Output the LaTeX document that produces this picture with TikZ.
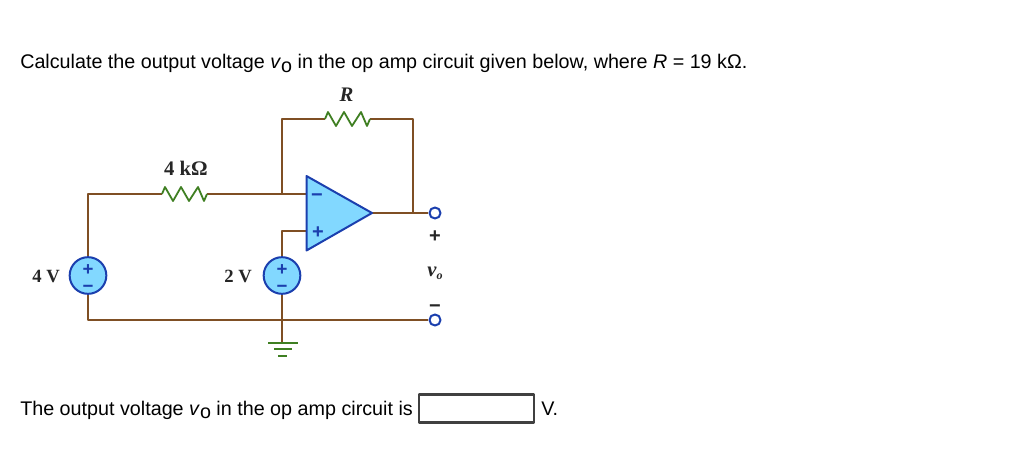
\documentclass[tikz,border=0pt]{standalone}
\usepackage{fontspec}
\setmainfont{Liberation Sans}
\newfontfamily\circfont{Liberation Serif}
\definecolor{wirecol}{HTML}{7F4F24}
\definecolor{rescol}{HTML}{3F7F22}
\definecolor{devcol}{HTML}{1B3FAE}
\definecolor{fillcol}{HTML}{82D8FF}
\newcommand{\vout}{\textit{v}\raisebox{-0.35ex}{o}}
\tikzset{
  wire/.style={draw=wirecol,line width=1.35pt},
  zig/.style={draw=rescol,line width=1.35pt},
  device/.style={draw=devcol,line width=1.5pt,fill=fillcol},
  source/.style={circle,device,minimum size=27.5pt,inner sep=0pt},
  srcsign/.style={inner sep=0pt,text=devcol,align=center,font=\fontsize{14}{12.5}\selectfont\bfseries},
  port/.style={circle,draw=devcol,line width=1.5pt,fill=white,minimum size=8.3pt,inner sep=0pt},
  sign/.style={text=devcol,font=\fontsize{15}{15}\selectfont\bfseries,inner sep=0pt},
  vsign/.style={inner sep=0pt,font=\fontsize{15}{15}\selectfont\bfseries,text=black!85},
  txt/.style={anchor=base west,inner sep=0pt,font=\fontsize{14.8}{17}\selectfont},
  lab/.style={inner sep=0pt,font=\fontsize{14}{15}\selectfont\circfont\bfseries,text=black!85},
  biglab/.style={lab,font=\fontsize{15.5}{16}\selectfont\circfont\bfseries},
  resistor/.pic={\draw[zig] (0,0)--(3,-7)--(11,7)--(19,-7)--(27,7)--(36,-7)--(42,7)--(45,0);}
}
\begin{document}
\begin{tikzpicture}[line join=round, >=stealth, x=0.75pt, y=-0.75pt]
\useasboundingbox (0,0) rectangle (1024,453);
% text
\node[txt] (title) at (20,68.5) {Calculate the output voltage \vout{} in the op amp circuit given below, where \textit{R} = 19 kΩ.};
\node[txt] (answer) at (20,415) {The output voltage \vout{} in the op amp circuit is};
\node[draw=black!75,line width=1.7pt,minimum width=86.5pt,minimum height=21pt,inner sep=0pt] (box) at (476.5,408.5) {};
\node[txt] (unit) at (541,415) {V.};
% coordinates
\coordinate (ca) at (88,194);
\coordinate (r1a) at (162,194);
\coordinate (r1b) at (207,194);
\coordinate (inm) at (282,194);
\coordinate (fa) at (282,119);
\coordinate (r2a) at (325,119);
\coordinate (r2b) at (370,119);
\coordinate (fb) at (413,119);
\coordinate (fc) at (413,213);
\coordinate (tl) at (306.5,176);
\coordinate (bl) at (306.5,250.5);
\coordinate (apex) at (372,213);
\coordinate (mi) at (306.5,194);
\coordinate (pi) at (306.5,231);
\coordinate (pc) at (282,231);
\coordinate (cb) at (88,320);
\coordinate (cc) at (282,320);
\coordinate (gnd) at (282,343);
% elements
\node[source] (s1) at (88,275.5) {};
\node[source] (s2) at (282,275.5) {};
\node[srcsign] (s1t) at (88,278.5) {+\\−};
\node[srcsign] (s2t) at (282,278.5) {+\\−};
\node[port] (out) at (435,213) {};
\node[port] (ret) at (435,320) {};
\draw[wire] (s1)--(ca)--(r1a) (r1b)--(inm)--(mi) (inm)--(fa)--(r2a) (r2b)--(fb)--(fc);
\draw[wire] (apex)--(out) (pi)--(pc)--(s2) (s2)--(cc)--(gnd) (s1)--(cb)--(ret);
\pic at (r1a) {resistor};
\pic at (r2a) {resistor};
\draw[device] (tl)--(apex)--(bl)--cycle;
\node[sign] (mns) at (317,198) {−};
\node[sign] (pls) at (318,233) {+};
% ground
\draw[zig] (268,343)--(298,343) (274,349)--(292,349) (278,356)--(287,356);
% labels
\node[biglab] (lr1) at (186,168) {4 kΩ};
\node[biglab] (lr2) at (346.5,95) {\itshape R};
\node[lab] (ls1) at (46,276) {4 V};
\node[lab] (ls2) at (238,276) {2 V};
\node[vsign] (vp) at (435,237) {+};
\node[biglab] (vo) at (435,273) {\itshape v\raisebox{-0.3ex}{\small o}};
\node[vsign] (vm) at (435,309) {−};
\end{tikzpicture}
\end{document}
